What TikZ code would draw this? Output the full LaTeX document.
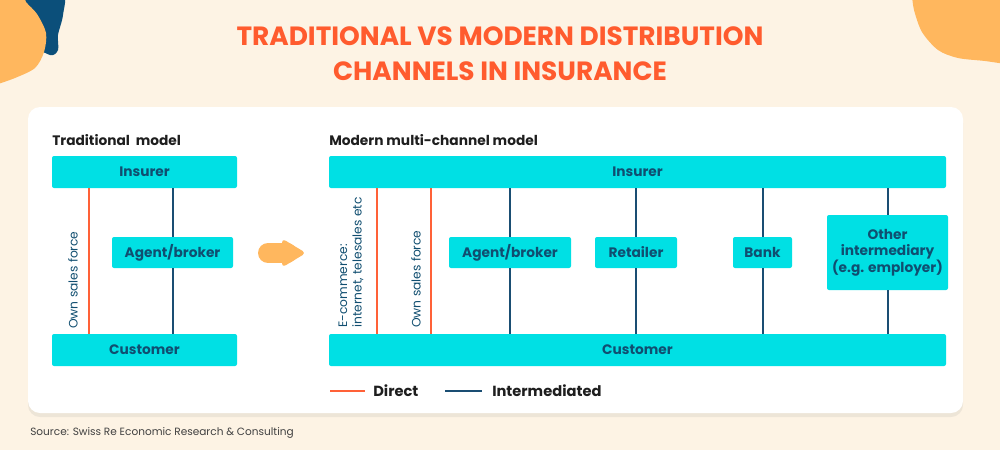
\documentclass[tikz,border=0pt]{standalone}
\usepackage{fontspec}
\setmainfont{Poppins}
\usetikzlibrary{shadows,calc}
\definecolor{bgcream}{HTML}{FDF3E4}
\definecolor{boxcyan}{HTML}{00E0E4}
\definecolor{boxtext}{HTML}{104E70}
\definecolor{lineblue}{HTML}{1A4E73}
\definecolor{lineorange}{HTML}{FF6138}
\definecolor{titleorange}{HTML}{FF5B2E}
\definecolor{blobor}{HTML}{FFB75E}
\definecolor{blobblue}{HTML}{0B4F7A}
\definecolor{darktext}{HTML}{1E1E1E}
\tikzset{
  cbox/.style={fill=boxcyan, rounded corners=1.5pt, text=boxtext, font=\fontsize{10.3}{12.5}\selectfont\bfseries, align=center, inner sep=0pt},
  direct/.style={draw=lineorange, line width=1.5pt},
  inter/.style={draw=lineblue, line width=1.5pt},
  rottext/.style={rotate=90, anchor=west, text=boxtext, font=\fontsize{9.2}{11}\selectfont, align=left, inner sep=0pt},
  head/.style={anchor=west, text=darktext, font=\fontsize{10.3}{12}\selectfont\bfseries, inner sep=0pt},
  legtext/.style={anchor=west, text=darktext, font=\fontsize{11}{12}\selectfont\bfseries, inner sep=0pt}
}
\begin{document}
\begin{tikzpicture}[x=0.75pt,y=-0.75pt]
\useasboundingbox (0,0) rectangle (1000,450);
\fill[bgcream] (0,0) rectangle (1000,450);
% blobs
\fill[blobblue] plot[smooth cycle] coordinates {(18,-8) (62,-8) (63,15) (58,35) (58,50) (50,55) (30,40)};
\fill[blobor] (-5,-5) -- plot[smooth] coordinates {(24,-5) (26,2) (37,14) (46,33) (44,52) (35,68) (15,78) (-5,85)} -- cycle;
\fill[blobor] (1005,-5) -- plot[smooth] coordinates {(912,-5) (914,10) (922,32) (938,50) (958,58) (985,61) (1005,64)} -- cycle;
% title
\node[text=titleorange, font=\fontsize{19.8}{26}\selectfont\bfseries, align=center] (title) at (500,54) {TRADITIONAL VS MODERN DISTRIBUTION\\CHANNELS IN INSURANCE};
% card
\fill[white, rounded corners=9pt, drop shadow={opacity=0.12, shadow xshift=0pt, shadow yshift=-3pt}] (28,107) rectangle (963,413);
% traditional
\node[head] (thead) at (52,140) {Traditional\ \ model};
\node[cbox, minimum width=185*0.75pt, minimum height=32*0.75pt] (tins) at (144.5,172) {Insurer};
\node[cbox, minimum width=185*0.75pt, minimum height=32*0.75pt] (tcus) at (144.5,350) {Customer};
\node[cbox, minimum width=121*0.75pt, minimum height=31*0.75pt] (tag) at (172.5,252.5) {Agent/broker};
\coordinate (to) at (89,260);
\draw[direct] (tins.south -| to) -- (tcus.north -| to);
\draw[inter] (tins.south -| tag) -- (tag.north);
\draw[inter] (tag.south) -- (tcus.north -| tag);
\node[rottext] (tosf) at (73,329) {Own sales force};
% arrow
\draw[blobor, line width=15pt, line cap=round] (268,253) -- (287,253);
\fill[blobor, rounded corners=3pt] (282,238.5) -- (306,253) -- (282,267.5) -- cycle;
% modern
\node[head] (mhead) at (329,140) {Modern multi-channel model};
\node[cbox, minimum width=617*0.75pt, minimum height=32*0.75pt] (mins) at (637.5,172) {Insurer};
\node[cbox, minimum width=617*0.75pt, minimum height=32*0.75pt] (mcus) at (637.5,350) {Customer};
\node[cbox, minimum width=122*0.75pt, minimum height=31*0.75pt] (mag) at (510,252.5) {Agent/broker};
\node[cbox, minimum width=82*0.75pt, minimum height=31*0.75pt] (mret) at (636,252.5) {Retailer};
\node[cbox, minimum width=59*0.75pt, minimum height=31*0.75pt] (mbank) at (762.5,252.5) {Bank};
\node[cbox, minimum width=121*0.75pt, minimum height=75*0.75pt] (moth) at (887.5,252.5) {Other\\intermediary\\(e.g. employer)};
\coordinate (mo1) at (377,260);
\coordinate (mo2) at (431,260);
\draw[direct] (mins.south -| mo1) -- (mcus.north -| mo1);
\draw[direct] (mins.south -| mo2) -- (mcus.north -| mo2);
\foreach \n in {mag,mret,mbank,moth}{
  \draw[inter] (mins.south -| \n) -- (\n.north);
  \draw[inter] (\n.south) -- (mcus.north -| \n);
}
\node[rottext] (mecom) at (351,328) {E-commerce:\\internet, telesales etc};
\node[rottext] (mosf) at (416,328) {Own sales force};
% legend
\coordinate (l1a) at (330,391); \coordinate (l1b) at (365,391);
\draw[direct] (l1a) -- (l1b);
\node[legtext] (ldir) at (373,391) {Direct};
\coordinate (l2a) at (445,391); \coordinate (l2b) at (482,391);
\draw[inter] (l2a) -- (l2b);
\node[legtext] (lint) at (492,391) {Intermediated};
% source
\node[anchor=west, inner sep=0pt, text=darktext!85, font=\fontsize{7.9}{9}\selectfont] (src) at (30,433) {Source: Swiss Re Economic Research \& Consulting};
\end{tikzpicture}
\end{document}
